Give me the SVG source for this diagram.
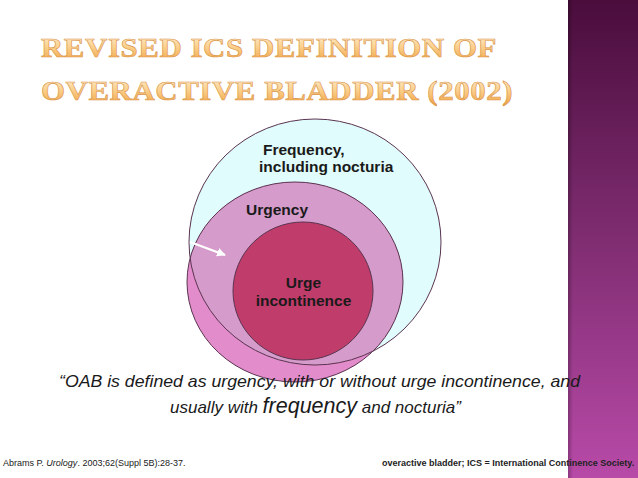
<svg xmlns="http://www.w3.org/2000/svg" width="638" height="478" viewBox="0 0 638 478">
  <defs>
    <linearGradient id="side" x1="0" y1="0" x2="0" y2="1">
      <stop offset="0" stop-color="#4a0d3c"/>
      <stop offset="0.45" stop-color="#7a2a6c"/>
      <stop offset="1" stop-color="#b84aa8"/>
    </linearGradient>
    <linearGradient id="sideEdge" x1="0" y1="0" x2="1" y2="0">
      <stop offset="0" stop-color="#000" stop-opacity="0.25"/>
      <stop offset="1" stop-color="#000" stop-opacity="0"/>
    </linearGradient>
    <linearGradient id="gold" x1="0" y1="0" x2="0" y2="1">
      <stop offset="0" stop-color="#fff1d8"/>
      <stop offset="0.5" stop-color="#fbcf8a"/>
      <stop offset="1" stop-color="#f0a040"/>
    </linearGradient>
    <clipPath id="outerClip">
      <ellipse cx="315" cy="242" rx="126" ry="123"/>
    </clipPath>
    <marker id="arrow" viewBox="0 0 10 10" refX="9" refY="5" markerWidth="4" markerHeight="4" orient="auto" markerUnits="strokeWidth">
      <path d="M0,0 L10,5 L0,10 z" fill="#ffffff"/>
    </marker>
    <style>
      .lbl { font-family: "Liberation Sans", Arial, sans-serif; font-weight: bold; font-size: 15.5px; fill: #1a1a1a; }
      .title { font-family: "Liberation Serif", "Times New Roman", serif; font-weight: bold; font-size: 28px; fill: url(#gold); stroke: #d9954a; stroke-width: 0.6; letter-spacing: 0.5px; }
      .quote { font-family: "Liberation Sans", Arial, sans-serif; font-style: italic; font-size: 17px; fill: #1a1a1a; }
      .foot { font-family: "Liberation Sans", Arial, sans-serif; font-size: 9px; fill: #222; }
      .ring { stroke: #5a3450; stroke-width: 1; }
    </style>
  </defs>

  <rect x="0" y="0" width="638" height="478" fill="#ffffff"/>

  <g id="sidebar">
    <rect x="568" y="0" width="70" height="478" fill="url(#side)"/>
    <rect x="568" y="0" width="5" height="478" fill="url(#sideEdge)"/>
  </g>

  <g id="title">
    <text class="title" x="41" y="57" textLength="456" lengthAdjust="spacingAndGlyphs">REVISED ICS DEFINITION OF</text>
    <text class="title" x="41" y="100" textLength="472" lengthAdjust="spacingAndGlyphs">OVERACTIVE BLADDER (2002)</text>
  </g>

  <g id="frequency">
    <ellipse cx="315" cy="242" rx="126" ry="123" fill="#e0fcfc"/>
  </g>

  <g id="urgency">
    <ellipse cx="295" cy="282" rx="108" ry="100" fill="#e38ccb"/>
    <ellipse cx="295" cy="282" rx="108" ry="100" fill="#d59bca" clip-path="url(#outerClip)"/>
    <ellipse cx="295" cy="282" rx="108" ry="100" fill="none" class="ring"/>
  </g>

  <g id="frequency-outline">
    <ellipse cx="315" cy="242" rx="126" ry="123" fill="none" class="ring"/>
  </g>

  <g id="urge-incontinence">
    <ellipse cx="303" cy="291" rx="70" ry="69" fill="#c03c6b" class="ring"/>
    <text class="lbl" x="303.5" y="288" text-anchor="middle">Urge</text>
    <text class="lbl" x="303.5" y="306" text-anchor="middle">incontinence</text>
  </g>

  <g id="labels">
    <text class="lbl" x="263" y="155">Frequency,</text>
    <text class="lbl" x="259" y="172">including nocturia</text>
    <text class="lbl" x="246" y="215">Urgency</text>
  </g>

  <g id="connectors">
    <line x1="190" y1="242" x2="225" y2="255" stroke="#ffffff" stroke-width="2.2" marker-end="url(#arrow)"/>
  </g>

  <g id="quote">
    <text class="quote" x="59" y="387" textLength="521" lengthAdjust="spacingAndGlyphs">“OAB is defined as urgency, with or without urge incontinence, and</text>
    <text class="quote" x="170" y="413">usually with <tspan font-size="21.5px">frequency</tspan> and nocturia”</text>
  </g>

  <g id="footer">
    <text class="foot" x="3" y="466">Abrams P. <tspan font-style="italic">Urology</tspan>. 2003;62(Suppl 5B):28-37.</text>
    <text class="foot" x="382" y="466" font-weight="bold" font-size="8.75px">overactive bladder; ICS = International Continence Society.</text>
  </g>
</svg>
